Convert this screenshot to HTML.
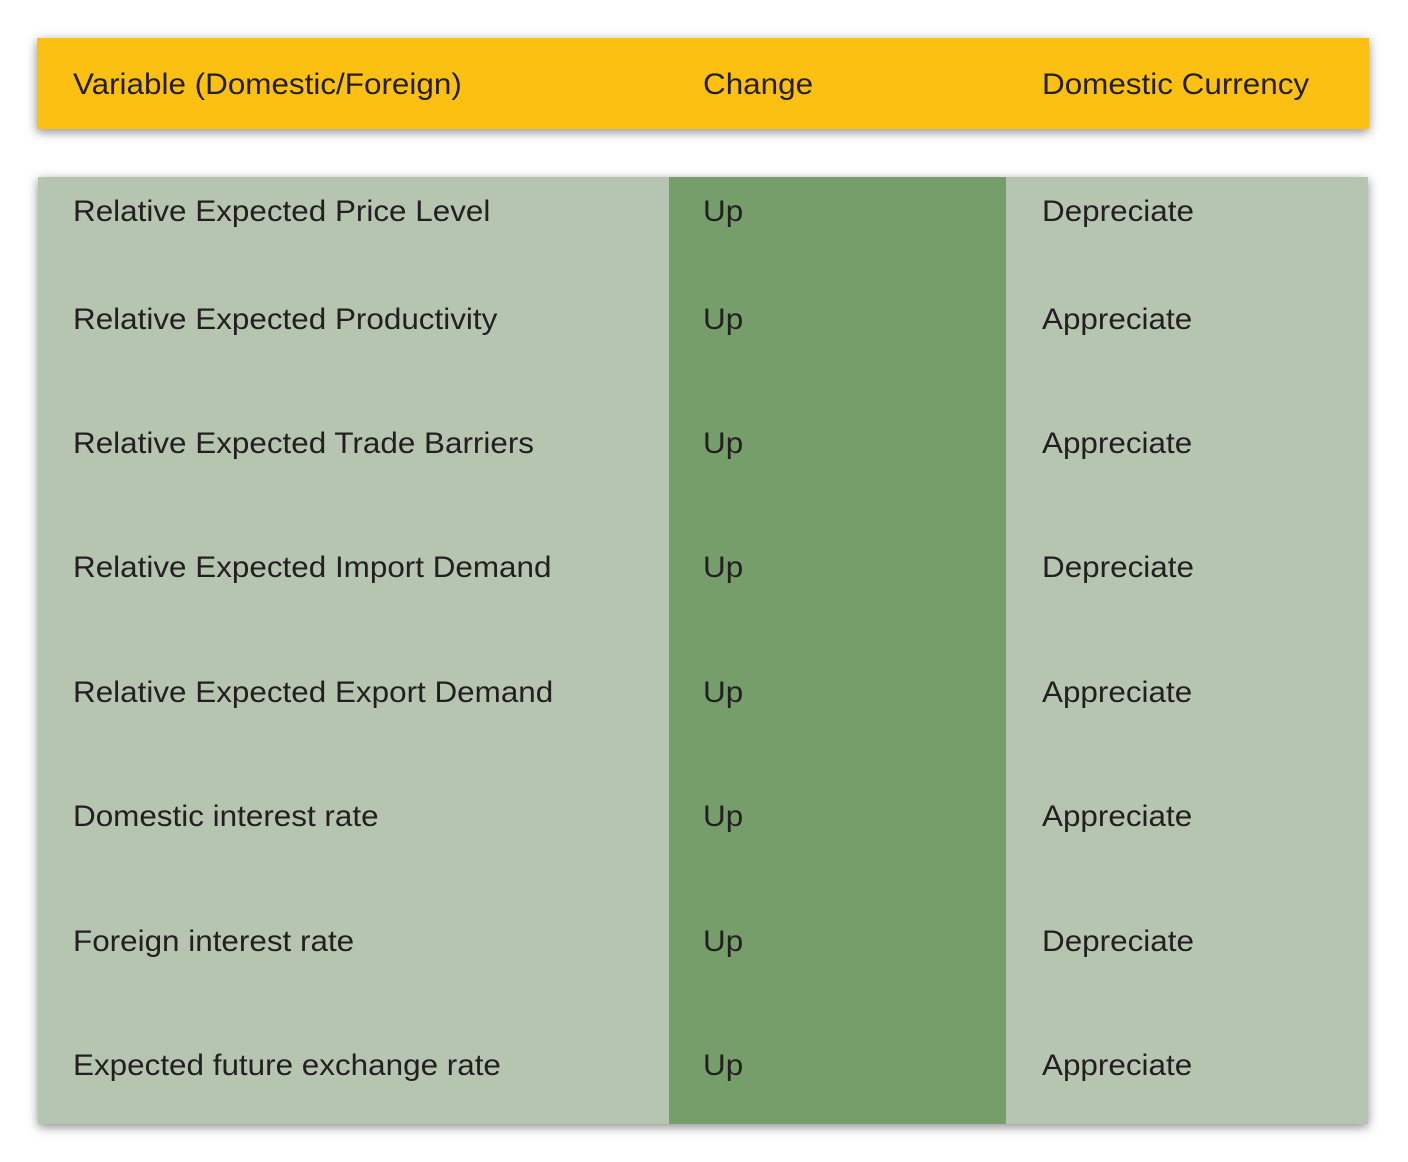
<!DOCTYPE html>
<html><head><style>
body{margin:0;width:1408px;height:1162px;background:#fff;position:relative;overflow:hidden;font-family:"Liberation Sans",sans-serif;color:#231f20}
.hdr{position:absolute;left:37px;top:38px;width:1332px;height:91px;background:#fbc012;box-shadow:0 3px 10px rgba(0,0,0,.45)}
.body{position:absolute;left:38px;top:177px;width:1330px;height:947px;background:#b5c5b0;box-shadow:0 3px 10px rgba(0,0,0,.45)}
.mid{position:absolute;left:631px;top:0;width:337px;height:947px;background:#769e6a}
.t{position:absolute;font-size:29.5px;line-height:34px;white-space:nowrap;transform-origin:0 50%;transform:translateY(-50%) scaleX(1.065)}
</style></head><body>
<div class="hdr">
<div class="t" style="left:36px;top:47px">Variable (Domestic/Foreign)</div>
<div class="t" style="left:666px;top:47px">Change</div>
<div class="t" style="left:1005px;top:47px">Domestic Currency</div>
</div>
<div class="body"><div class="mid"></div>
<div class="t" style="left:35px;top:35px">Relative Expected Price Level</div><div class="t" style="left:665px;top:35px">Up</div><div class="t" style="left:1004px;top:35px">Depreciate</div>
<div class="t" style="left:35px;top:143px">Relative Expected Productivity</div><div class="t" style="left:665px;top:143px">Up</div><div class="t" style="left:1004px;top:143px">Appreciate</div>
<div class="t" style="left:35px;top:267px">Relative Expected Trade Barriers</div><div class="t" style="left:665px;top:267px">Up</div><div class="t" style="left:1004px;top:267px">Appreciate</div>
<div class="t" style="left:35px;top:391px">Relative Expected Import Demand</div><div class="t" style="left:665px;top:391px">Up</div><div class="t" style="left:1004px;top:391px">Depreciate</div>
<div class="t" style="left:35px;top:516px">Relative Expected Export Demand</div><div class="t" style="left:665px;top:516px">Up</div><div class="t" style="left:1004px;top:516px">Appreciate</div>
<div class="t" style="left:35px;top:640px">Domestic interest rate</div><div class="t" style="left:665px;top:640px">Up</div><div class="t" style="left:1004px;top:640px">Appreciate</div>
<div class="t" style="left:35px;top:765px">Foreign interest rate</div><div class="t" style="left:665px;top:765px">Up</div><div class="t" style="left:1004px;top:765px">Depreciate</div>
<div class="t" style="left:35px;top:889px">Expected future exchange rate</div><div class="t" style="left:665px;top:889px">Up</div><div class="t" style="left:1004px;top:889px">Appreciate</div>
</div>
</body></html>
